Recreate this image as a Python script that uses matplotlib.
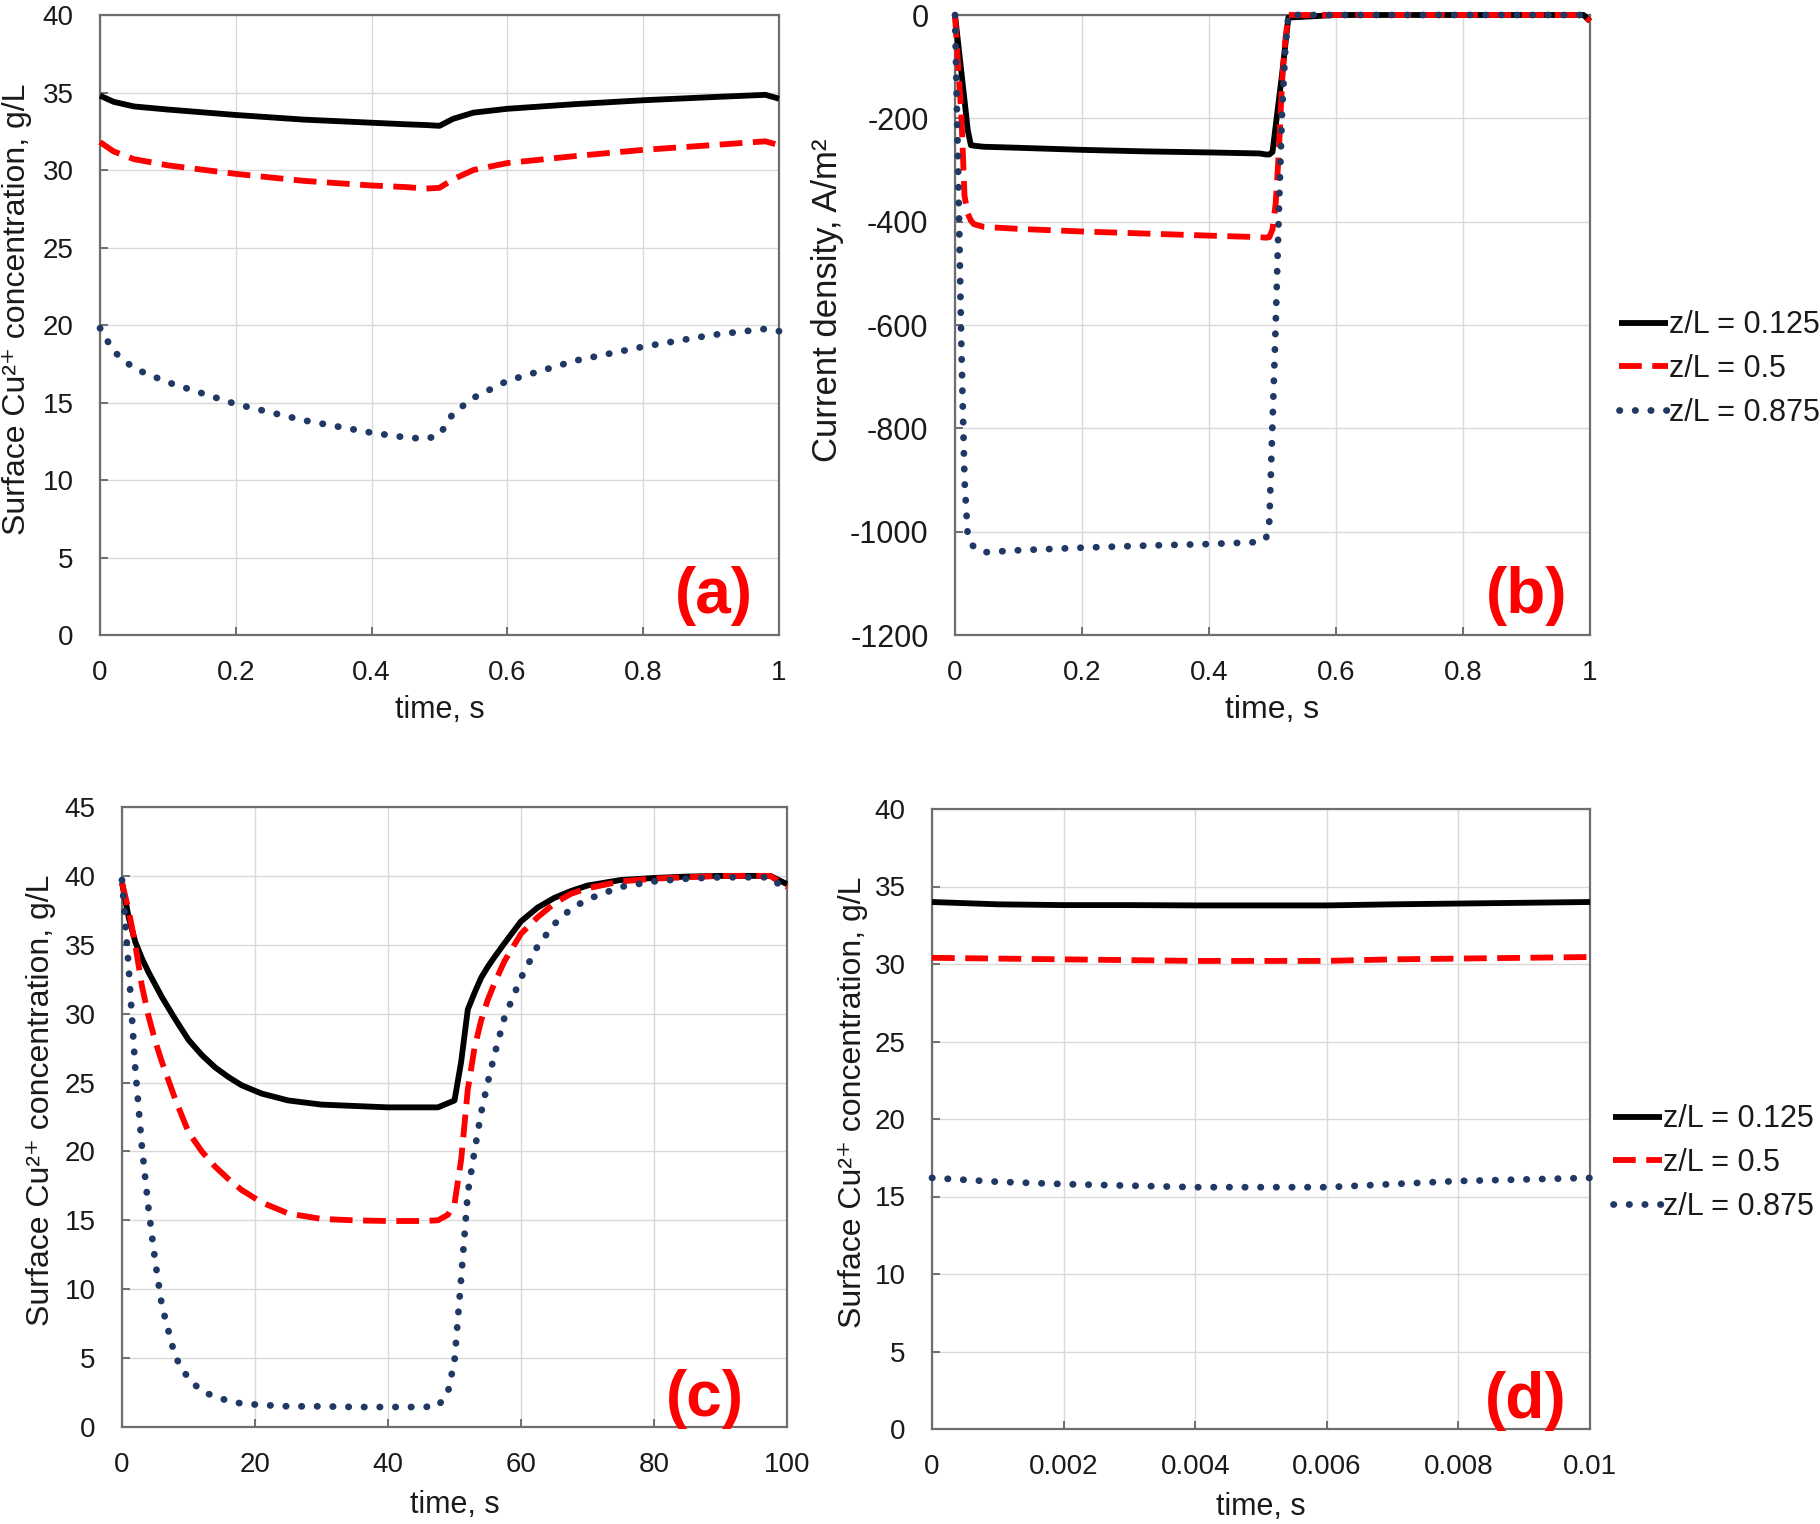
import matplotlib
matplotlib.use("Agg")
import matplotlib.pyplot as plt

plt.rcParams['font.family'] = ['Liberation Sans', 'DejaVu Sans']
plt.rcParams['axes.unicode_minus'] = False

# ---------------- data ----------------
series_labels = ["z/L = 0.125", "z/L = 0.5", "z/L = 0.875"]

# (a) surface concentration, one cycle 0-1 s
a_t = [0, 0.02, 0.05, 0.1, 0.2, 0.3, 0.4, 0.45, 0.48, 0.5, 0.52, 0.55, 0.6, 0.7, 0.8, 0.9, 0.98, 1.0]
a_black = [34.8, 34.4, 34.1, 33.9, 33.55, 33.25, 33.05, 32.95, 32.9, 32.85, 33.3, 33.7, 33.95, 34.25, 34.5, 34.7, 34.85, 34.6]
a_red = [31.8, 31.2, 30.7, 30.3, 29.75, 29.3, 29.0, 28.9, 28.8, 28.85, 29.4, 30.0, 30.45, 30.9, 31.3, 31.6, 31.85, 31.6]
a_blue = [19.8, 18.3, 17.2, 16.3, 14.9, 13.85, 13.05, 12.75, 12.65, 12.9, 14.3, 15.3, 16.4, 17.7, 18.6, 19.35, 19.75, 19.6]

# (b) current density, 0-1 s
b_t = [0, 0.005, 0.01, 0.015, 0.02, 0.025, 0.03, 0.045, 0.1, 0.2, 0.3, 0.4, 0.48, 0.49,
       0.495, 0.5, 0.505, 0.51, 0.515, 0.52, 0.525, 0.6, 0.8, 0.99, 1.0]
b_black = [0, -55, -110, -165, -222, -252, -253, -255, -257, -261, -264, -266, -268, -270,
           -270, -265, -215, -165, -115, -60, -5, 0, 0, 0, -12]
b_red = [0, -100, -194, -350, -384, -398, -405, -410, -414, -419, -423, -427, -430, -431,
         -430, -415, -365, -265, -130, -50, 0, 0, 0, 0, -12]
b_blue = [0, -300, -640, -900, -1006, -1022, -1030, -1040, -1036, -1031, -1027, -1024, -1020, -1012,
          -980, -790, -600, -380, -190, -70, 0, 0, 0, 0, -12]

# (c) surface concentration, 0-100 s
c_t = [0, 1, 2, 3, 4, 5, 6, 8, 10, 12, 14, 16, 18, 21, 25, 30, 35, 40, 45, 47.5, 49, 50, 51, 52, 53,
       54, 55, 56, 57.5, 60, 62.5, 65, 67.5, 70, 75, 80, 85, 90, 97.5, 100]
c_black = [39.5, 37.0, 35.2, 34.0, 33.0, 32.1, 31.2, 29.6, 28.1, 27.0, 26.1, 25.4, 24.8, 24.2, 23.7,
           23.4, 23.3, 23.2, 23.2, 23.2, 23.5, 23.7, 26.5, 30.3, 31.5, 32.6, 33.4, 34.1, 35.1, 36.7,
           37.7, 38.4, 38.9, 39.3, 39.7, 39.85, 39.95, 40.0, 40.0, 39.4]
c_red = [39.5, 37.5, 35.0, 32.0, 29.8, 28.0, 26.5, 23.8, 21.4, 20.0, 18.9, 18.0, 17.2, 16.3, 15.5,
         15.1, 15.0, 14.95, 14.95, 15.0, 15.4, 16.2, 19.4, 24.5, 27.5, 29.5, 31.0, 32.2, 33.8, 35.8,
         37.0, 38.0, 38.7, 39.1, 39.6, 39.8, 39.9, 40.0, 40.0, 39.2]
c_blue = [39.7, 33.4, 26.0, 20.3, 15.8, 12.0, 8.8, 5.1, 3.5, 2.6, 2.2, 1.9, 1.7, 1.6, 1.5,
          1.5, 1.45, 1.45, 1.45, 1.5, 2.5, 4.8, 10.8, 17.0, 20.0, 22.8, 25.0, 27.0, 29.7, 32.6,
          34.9, 36.5, 37.6, 38.3, 39.2, 39.6, 39.8, 39.9, 39.9, 38.9]

# (d) surface concentration, 0-0.01 s
d_t = [0, 0.001, 0.002, 0.003, 0.004, 0.005, 0.006, 0.007, 0.008, 0.009, 0.01]
d_black = [34.0, 33.85, 33.8, 33.8, 33.78, 33.78, 33.78, 33.85, 33.9, 33.95, 34.0]
d_red = [30.4, 30.35, 30.3, 30.25, 30.2, 30.2, 30.2, 30.3, 30.35, 30.4, 30.45]
d_blue = [16.2, 15.95, 15.8, 15.7, 15.6, 15.6, 15.6, 15.8, 16.0, 16.1, 16.2]

ab_xticks = [0, 0.2, 0.4, 0.6, 0.8, 1]
ab_xticklabels = ["0", "0.2", "0.4", "0.6", "0.8", "1"]
c_xticks = [0, 20, 40, 60, 80, 100]
d_xticks = [0, 0.002, 0.004, 0.006, 0.008, 0.01]
d_xticklabels = ["0", "0.002", "0.004", "0.006", "0.008", "0.01"]

conc_label = "Surface Cu\u00b2\u207a concentration, g/L"
cd_label = "Current density, A/m\u00b2"

# ---------------- styles ----------------
BLACK = "#000000"
RED = "#FF0000"
NAVY = "#1F3864"
LW = 4.2
SPINE = "#6E6E6E"
TXT = "#1A1A1A"

W, H = 1820, 1524
fig = plt.figure(figsize=(W / 100, H / 100), dpi=100)


def box(l, r, t, b):
    return [l / W, 1 - b / H, (r - l) / W, (b - t) / H]


def draw(ax, t, ys, xlim, ylim, xticks, xticklabels, yticks, ylabel, tag, tagpos,
         ylab_x, ylab_y, xlab_y, ytick_fs=20, ylab_fs=23, xlab_fs=22):
    l1, = ax.plot(t, ys[0], color=BLACK, lw=LW, solid_capstyle='butt', clip_on=False, zorder=3)
    l2, = ax.plot(t, ys[1], color=RED, lw=LW, dashes=(3.9, 1.8), dash_capstyle='butt', clip_on=False, zorder=4)
    l3, = ax.plot(t, ys[2], color=NAVY, lw=4.9, dashes=(0.05, 2.25), dash_capstyle='round', clip_on=False, zorder=5)
    ax.set_xlim(*xlim)
    ax.set_ylim(*ylim)
    ax.set_xticks(xticks)
    ax.set_xticklabels(xticklabels)
    ax.set_yticks(yticks)
    ax.grid(True, color="#D9D9D9", lw=1.0)
    ax.set_axisbelow(True)
    for s in ax.spines.values():
        s.set_color(SPINE)
        s.set_linewidth(1.6)
    ax.tick_params(axis='both', direction='in', length=6, width=1.4, color=SPINE,
                   labelsize=20, labelcolor=TXT)
    ax.tick_params(axis='x', pad=18)
    ax.tick_params(axis='y', pad=19, labelsize=ytick_fs)
    ax.set_ylabel(ylabel, fontsize=ylab_fs, color=TXT, va='center', ha='center', rotation_mode='anchor')
    ax.yaxis.set_label_coords(ylab_x, ylab_y)
    ax.set_xlabel("time, s", fontsize=xlab_fs, color=TXT, va='center')
    ax.xaxis.set_label_coords(0.5, xlab_y)
    ax.text(tagpos[0], tagpos[1], tag, transform=ax.transAxes, color=RED, fontsize=46,
            fontweight='bold', ha='center', va='center', zorder=6)
    return [l1, l2, l3]


ax_a = fig.add_axes(box(100, 779, 15, 635))
draw(ax_a, a_t, [a_black, a_red, a_blue], (0, 1), (0, 40), ab_xticks, ab_xticklabels,
     list(range(0, 41, 5)), conc_label, "(a)", (0.904, 0.063), -0.122, 0.526, -0.121)

ax_b = fig.add_axes(box(955, 1590, 15, 635))
hb = draw(ax_b, b_t, [b_black, b_red, b_blue], (0, 1), (-1200, 0), ab_xticks, ab_xticklabels,
          list(range(-1200, 1, 200)), cd_label, "(b)", (0.90, 0.063), -0.20, 0.54, -0.121,
          ytick_fs=22, ylab_fs=25, xlab_fs=23)

ax_c = fig.add_axes(box(122, 787, 807, 1427))
draw(ax_c, c_t, [c_black, c_red, c_blue], (0, 100), (0, 45), c_xticks, [str(v) for v in c_xticks],
     list(range(0, 46, 5)), conc_label, "(c)", (0.877, 0.045), -0.122, 0.527, -0.126)

ax_d = fig.add_axes(box(932, 1590, 809, 1429))
hd = draw(ax_d, d_t, [d_black, d_red, d_blue], (0, 0.01), (0, 40), d_xticks, d_xticklabels,
          list(range(0, 41, 5)), conc_label, "(d)", (0.903, 0.045), -0.12, 0.527, -0.126)

for handles, x0, yc in [(hb, 1619, 369), (hd, 1613, 1163)]:
    fig.legend(handles, series_labels, loc='center left', bbox_to_anchor=(x0 / W, 1 - yc / H),
               frameon=False, fontsize=22, handlelength=1.6, handletextpad=0.05,
               labelspacing=0.45, borderpad=0, borderaxespad=0, labelcolor=TXT)

fig.savefig("out.png", dpi=100)
